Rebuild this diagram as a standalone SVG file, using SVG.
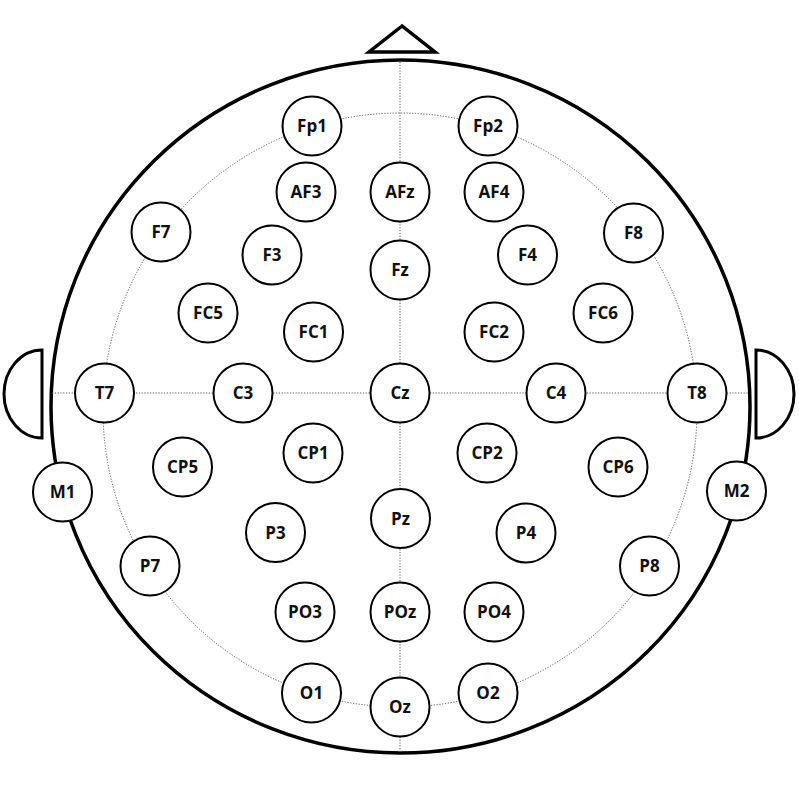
<svg xmlns="http://www.w3.org/2000/svg" width="799" height="799" viewBox="0 0 799 799">
<style>
.head{fill:#fff;stroke:#000;stroke-width:3.5}
.ear{fill:#fff;stroke:#000;stroke-width:3}
.dot{fill:none;stroke:#555;stroke-width:1;stroke-dasharray:1.2 1.6}
.node circle{fill:#fff;stroke:#000;stroke-width:2}
.node text{font-family:"Open Sans","Noto Sans","Liberation Sans",sans-serif;font-weight:bold;font-size:17px;fill:#111;text-anchor:middle}
</style>
<rect width="799" height="799" fill="#fff"/>
<g id="head">
<path class="ear" d="M42,350 L42,438 A38,44 0 0 1 42,350 Z"/>
<path class="ear" d="M756,350 L756,438 A38,44 0 0 0 756,350 Z"/>
<polygon class="head" points="402,26 369,52 435,52"/>
<ellipse class="head" cx="400.5" cy="406.5" rx="349.5" ry="346.5"/>
</g>
<g id="connectors">
<line class="dot" x1="400" y1="62" x2="400" y2="752"/>
<line class="dot" x1="52" y1="393" x2="749" y2="393"/>
<circle class="dot" cx="400" cy="410" r="297"/>
</g>
<g id="n-Fp1" class="node"><circle cx="312" cy="126" r="29.5"/><text x="312" y="132">Fp1</text></g>
<g id="n-Fp2" class="node"><circle cx="488" cy="126" r="29.5"/><text x="488" y="132">Fp2</text></g>
<g id="n-AF3" class="node"><circle cx="306" cy="192" r="29.5"/><text x="306" y="198">AF3</text></g>
<g id="n-AFz" class="node"><circle cx="400" cy="192" r="29.5"/><text x="400" y="198">AFz</text></g>
<g id="n-AF4" class="node"><circle cx="494" cy="192" r="29.5"/><text x="494" y="198">AF4</text></g>
<g id="n-F7" class="node"><circle cx="161" cy="232" r="29.5"/><text x="161" y="238">F7</text></g>
<g id="n-F3" class="node"><circle cx="272" cy="255" r="29.5"/><text x="272" y="261">F3</text></g>
<g id="n-Fz" class="node"><circle cx="400" cy="270" r="29.5"/><text x="400" y="276">Fz</text></g>
<g id="n-F4" class="node"><circle cx="527.5" cy="255" r="29.5"/><text x="527.5" y="261">F4</text></g>
<g id="n-F8" class="node"><circle cx="633.5" cy="233" r="29.5"/><text x="633.5" y="239">F8</text></g>
<g id="n-FC5" class="node"><circle cx="208" cy="313" r="29.5"/><text x="208" y="319">FC5</text></g>
<g id="n-FC1" class="node"><circle cx="313.5" cy="332" r="29.5"/><text x="313.5" y="338">FC1</text></g>
<g id="n-FC2" class="node"><circle cx="494" cy="332" r="29.5"/><text x="494" y="338">FC2</text></g>
<g id="n-FC6" class="node"><circle cx="603" cy="313" r="29.5"/><text x="603" y="319">FC6</text></g>
<g id="n-T7" class="node"><circle cx="104.5" cy="393" r="29.5"/><text x="104.5" y="399">T7</text></g>
<g id="n-C3" class="node"><circle cx="243" cy="393" r="29.5"/><text x="243" y="399">C3</text></g>
<g id="n-Cz" class="node"><circle cx="400" cy="393" r="29.5"/><text x="400" y="399">Cz</text></g>
<g id="n-C4" class="node"><circle cx="556" cy="393" r="29.5"/><text x="556" y="399">C4</text></g>
<g id="n-T8" class="node"><circle cx="697" cy="393" r="29.5"/><text x="697" y="399">T8</text></g>
<g id="n-CP5" class="node"><circle cx="182.5" cy="467" r="29.5"/><text x="182.5" y="473">CP5</text></g>
<g id="n-CP1" class="node"><circle cx="313" cy="453" r="29.5"/><text x="313" y="459">CP1</text></g>
<g id="n-CP2" class="node"><circle cx="487" cy="453" r="29.5"/><text x="487" y="459">CP2</text></g>
<g id="n-CP6" class="node"><circle cx="618" cy="467" r="29.5"/><text x="618" y="473">CP6</text></g>
<g id="n-M1" class="node"><circle cx="62.5" cy="492" r="29.5"/><text x="62.5" y="498">M1</text></g>
<g id="n-M2" class="node"><circle cx="736.5" cy="491" r="29.5"/><text x="736.5" y="497">M2</text></g>
<g id="n-P3" class="node"><circle cx="275.5" cy="532.5" r="29.5"/><text x="275.5" y="538.5">P3</text></g>
<g id="n-Pz" class="node"><circle cx="400.5" cy="518.5" r="29.5"/><text x="400.5" y="524.5">Pz</text></g>
<g id="n-P4" class="node"><circle cx="526" cy="533" r="29.5"/><text x="526" y="539">P4</text></g>
<g id="n-P7" class="node"><circle cx="150" cy="566" r="29.5"/><text x="150" y="572">P7</text></g>
<g id="n-P8" class="node"><circle cx="649.5" cy="566" r="29.5"/><text x="649.5" y="572">P8</text></g>
<g id="n-PO3" class="node"><circle cx="305" cy="612" r="29.5"/><text x="305" y="618">PO3</text></g>
<g id="n-POz" class="node"><circle cx="400" cy="612" r="29.5"/><text x="400" y="618">POz</text></g>
<g id="n-PO4" class="node"><circle cx="494" cy="612" r="29.5"/><text x="494" y="618">PO4</text></g>
<g id="n-O1" class="node"><circle cx="311.5" cy="693" r="29.5"/><text x="311.5" y="699">O1</text></g>
<g id="n-Oz" class="node"><circle cx="400" cy="707" r="29.5"/><text x="400" y="713">Oz</text></g>
<g id="n-O2" class="node"><circle cx="488" cy="693" r="29.5"/><text x="488" y="699">O2</text></g>
</svg>
